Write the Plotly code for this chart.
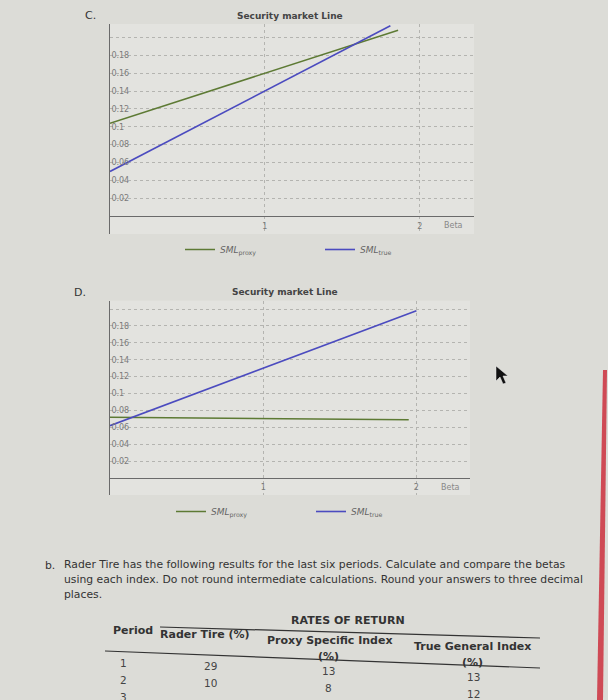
import plotly.graph_objects as go

W, H = 608, 700

# C. Security market line - proxy vs true (beta, expected return)
c_beta_proxy = [0, 1.86]
c_ret_proxy = [0.104, 0.208]
c_beta_true = [0, 1.81]
c_ret_true = [0.05, 0.213]

# D. Security market line
d_beta_proxy = [0, 1.95]
d_ret_proxy = [0.072, 0.069]
d_beta_true = [0, 2.0]
d_ret_true = [0.062, 0.198]

y_ticks = [0.02, 0.04, 0.06, 0.08, 0.1, 0.12, 0.14, 0.16, 0.18, 0.2]
y_labels = ["0.02", "0.04", "0.06", "0.08", "0.1", "0.12", "0.14", "0.16", "0.18", " "]
x_ticks = [1, 2]
x_labels = ["1", "2"]

# table rows that can be seen
periods = [1, 2, 3]
rader_tire = [29, 10]
proxy_index = [13, 8]
true_index = [13, 12]

question = [
    "Rader Tire has the following results for the last six periods. Calculate and compare the betas",
    "using each index. Do not round intermediate calculations. Round your answers to three decimal",
    "places.",
]

GREEN = "#5d7a34"
BLUE = "#4b4bbf"
GRID = "#b4b4b0"
AXIS = "#6a6a6a"
FONT = "DejaVu Sans"


def px(x, y):
    # pixel position -> paper coords
    return x / W, 1 - y / H


fig = go.Figure()

fig.add_trace(go.Scatter(x=c_beta_proxy, y=c_ret_proxy, mode="lines", line=dict(color=GREEN, width=1.5),
                         name="<i>SML</i><sub>proxy</sub>", xaxis="x", yaxis="y", legend="legend"))
fig.add_trace(go.Scatter(x=c_beta_true, y=c_ret_true, mode="lines", line=dict(color=BLUE, width=1.6),
                         name="<i>SML</i><sub>true</sub>", xaxis="x", yaxis="y", legend="legend"))
fig.add_trace(go.Scatter(x=d_beta_proxy, y=d_ret_proxy, mode="lines", line=dict(color=GREEN, width=1.5),
                         name="<i>SML</i><sub>proxy</sub>", xaxis="x2", yaxis="y2", legend="legend2"))
fig.add_trace(go.Scatter(x=d_beta_true, y=d_ret_true, mode="lines", line=dict(color=BLUE, width=1.6),
                         name="<i>SML</i><sub>true</sub>", xaxis="x2", yaxis="y2", legend="legend2"))


def x_axis(dom, anchor):
    return dict(domain=dom, anchor=anchor, range=[0, 2.35], tickvals=x_ticks, ticktext=x_labels,
                showgrid=True, gridcolor=GRID, griddash="dot", gridwidth=1, zeroline=False,
                showline=False, ticks="", ticklabelposition="inside",
                tickfont=dict(size=8, color="#7a7a7a", family=FONT), fixedrange=True)


def y_axis(dom, anchor, rng):
    return dict(domain=dom, anchor=anchor, range=rng, tickvals=y_ticks, ticktext=y_labels,
                showgrid=True, gridcolor=GRID, griddash="dot", gridwidth=1,
                zeroline=True, zerolinecolor=AXIS, zerolinewidth=1,
                showline=True, linecolor=AXIS, linewidth=1,
                ticks="", ticklabelposition="inside", ticklabelstandoff=0,
                tickfont=dict(size=8, color="#7a7a7a", family=FONT), fixedrange=True)


legend_style = dict(orientation="h", xanchor="left", yanchor="top", entrywidth=95, entrywidthmode="pixels",
                    bgcolor="rgba(0,0,0,0)", font=dict(size=9, color="#666", family=FONT), itemwidth=30)

lx, ly = px(180, 235)
lx2, ly2 = px(171, 497)

annotations = []


def text(x, y, s, size=11, color="#333", anchor="center", bold=False):
    ax, ay = px(x, y)
    annotations.append(dict(x=ax, y=ay, xref="paper", yref="paper", text=f"<b>{s}</b>" if bold else s,
                            showarrow=False, xanchor=anchor, yanchor="middle",
                            font=dict(size=size, color=color, family=FONT)))


text(90, 15, "C.", size=11)
text(290, 16, "Security market Line", size=9, color="#444", bold=True)
text(80, 292, "D.", size=11)
text(285, 292, "Security market Line", size=9, color="#444", bold=True)

for xr, yr in [("x", "y"), ("x2", "y2")]:
    annotations.append(dict(x=2.22, y=-0.011, xref=xr, yref=yr, text="Beta", showarrow=False,
                            font=dict(size=8, color="#888", family=FONT)))

# question text
text(50, 565, "b.", size=10.8)
for i, line in enumerate(question):
    text(62, 564 + i * 15, line, size=10.8, anchor="left")

# table, the photo is a bit tilted so rows sink to the right
tilt = 0.04
col_x = [123, 210, 328, 473]
text(348, 620, "RATES OF RETURN", bold=True)
text(133, 630, "Period", bold=True)
text(205, 634, "Rader Tire (%)", bold=True)
text(330, 640, "Proxy Specific Index", bold=True)
text(328, 656, "(%)", bold=True)
text(472, 646, "True General Index", bold=True)
text(472, 662, "(%)", bold=True)

for i, p in enumerate(periods):
    row = [p] + [col[i] if i < len(col) else None for col in (rader_tire, proxy_index, true_index)]
    for cx, v in zip(col_x, row):
        if v is None:
            continue
        text(cx, 663 + i * 17 + tilt * (cx - 123), str(v), size=10.5, color="#444")

shapes = []
x0, y0 = px(160, 627)
x1, y1 = px(540, 638)
shapes.append(dict(type="line", xref="paper", yref="paper", x0=x0, y0=y0, x1=x1, y1=y1,
                   line=dict(color="#333", width=1.2)))
x0, y0 = px(105, 651)
x1, y1 = px(540, 668)
shapes.append(dict(type="line", xref="paper", yref="paper", x0=x0, y0=y0, x1=x1, y1=y1,
                   line=dict(color="#333", width=1.2)))

# red edge of the screen on the right
pts = [px(603, 370), px(607, 370), px(603, 700), px(597, 700)]
path = "M" + " L".join(f"{a},{b}" for a, b in pts) + " Z"
shapes.append(dict(type="path", xref="paper", yref="paper", path=path, fillcolor="#cf4a55",
                   line=dict(width=0)))

# mouse pointer
pts = [px(496, 366), px(496, 381), px(500, 377), px(503, 384), px(506, 383), px(503, 376), px(508, 376)]
path = "M" + " L".join(f"{a},{b}" for a, b in pts) + " Z"
shapes.append(dict(type="path", xref="paper", yref="paper", path=path, fillcolor="#111",
                   line=dict(color="#eee", width=0.5)))

fig.update_layout(
    width=W, height=H,
    margin=dict(l=0, r=0, t=0, b=0),
    paper_bgcolor="#dcdcd7",
    plot_bgcolor="#e3e3df",
    font=dict(family=FONT),
    xaxis=x_axis([110 / W, 474 / W], "y"),
    yaxis=y_axis([1 - 234 / H, 1 - 24 / H], "x", [-0.02, 0.215]),
    xaxis2=x_axis([110 / W, 470 / W], "y2"),
    yaxis2=y_axis([1 - 495 / H, 1 - 300.6 / H], "x2", [-0.02, 0.21]),
    legend=dict(x=lx, y=ly, **legend_style),
    legend2=dict(x=lx2, y=ly2, **legend_style),
    annotations=annotations,
    shapes=shapes,
    showlegend=True,
)

# page body has a default margin, drop it so the figure fills the window
fig.write_html("out.html", config={"displayModeBar": False},
               post_script="document.body.style.margin='0';")
